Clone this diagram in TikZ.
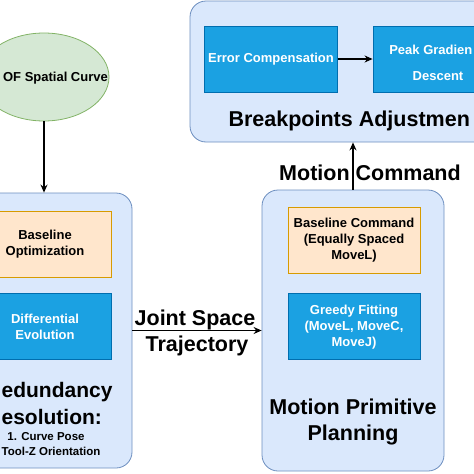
\documentclass[tikz,border=0pt]{standalone}
\usepackage{fontspec}
\setmainfont{Liberation Sans}
\usepackage{xcolor}
\usetikzlibrary{shapes.geometric, arrows, arrows.meta}
\usetikzlibrary{positioning}
\definecolor{grpfill}{HTML}{DAE8FC}
\definecolor{grpline}{HTML}{6C8EBF}
\definecolor{boxfill}{HTML}{1BA1E2}
\definecolor{boxline}{HTML}{006EAF}
\definecolor{orgfill}{HTML}{FFE6CC}
\definecolor{orgline}{HTML}{D79B00}
\definecolor{grnfill}{HTML}{D5E8D4}
\definecolor{grnline}{HTML}{82B366}

\begin{document}
\begin{tikzpicture}[x=1pt, y=-1pt, ->, >={Stealth[length=8pt, width=7pt]}, line width=1.2pt,
	group/.style={rectangle, rounded corners=16pt, draw=grpline, fill=grpfill, line width=0.8pt, inner sep=0pt},
	bluebox/.style={rectangle, draw=boxline, fill=boxfill, text=white, minimum width=132pt, minimum height=66pt, align=center, font=\fontsize{13}{16}\selectfont\bfseries, line width=0.8pt},
	orangebox/.style={bluebox, draw=orgline, fill=orgfill, text=black},
	curve/.style={ellipse, draw=grnline, fill=grnfill, minimum width=130pt, minimum height=88pt, line width=0.8pt},
	big/.style={font=\fontsize{21.5}{26}\selectfont\bfseries, align=center, inner sep=0pt},
	small/.style={font=\fontsize{13}{16}\selectfont\bfseries, inner sep=0pt},
	tiny/.style={font=\fontsize{11.5}{14}\selectfont\bfseries, inner sep=0pt}]
	\useasboundingbox (0,0) rectangle (474,474);
	\clip (0,0) rectangle (474,474);
	
	\node[group, minimum width=329pt, minimum height=141pt] (ba) at (354.5,71.5) {};
	\node[group, minimum width=174pt, minimum height=275pt] (rr) at (45,330.5) {};
	\node[group, minimum width=182pt, minimum height=281pt] (mp) at (353,330.5) {};
	
	\node[curve] (sc) at (44,77) {};
	\node[small, anchor=base west] (sct) at (2.5,81.6) {OF Spatial Curve};
	
	\node[bluebox] (ec) at (271,59) {Error Compensation};
	\node[bluebox] (pg) [right=35pt of ec] {};
	\node[small, text=white, anchor=base east] (pg1) at (473,54.6) {Peak Gradien};
	\node[small, text=white, anchor=base] (pg2) at (438,80.6) {Descent};
	\node[big, anchor=base west] (bat) at (228,126.7) {Breakpoints Adjustmen};
	
	\node[orangebox] (bo) at (45,244) {Baseline\\Optimization};
	\node[bluebox] (de) [below=16pt of bo] {Differential\\Evolution};
	\node[big, font=\fontsize{21}{26}\selectfont\bfseries, anchor=base west] (rr1) at (1,397.7) {edundancy};
	\node[big, font=\fontsize{21}{26}\selectfont\bfseries, anchor=base west] (rr2) at (1,424.7) {esolution:};
	\node[tiny, anchor=base] (rr3) at (46,440) {1. Curve Pose};
	\node[tiny, anchor=base west] (rr4) at (1,455) {Tool-Z Orientation};
	
	\node[orangebox] (bc) at (354,240) {Baseline Command\\(Equally Spaced\\MoveL)};
	\node[bluebox] (gf) [below=20pt of bc] {Greedy Fitting\\(MoveL, MoveC,\\MoveJ)};
	\node[big] (mpt) at (353,422) {Motion Primitive\\Planning};
	
	\path (sc.south) edge (sc.south |- rr.north)
	(ec) edge (pg)
	(rr) edge node[big, above, xshift=-2pt] {Joint Space} node[big, below, inner sep=4.5pt] {Trajectory} (mp)
	(mp.north) edge node[big, xshift=17pt, yshift=-7pt] {Motion Command} (mp.north |- ba.south);
	
\end{tikzpicture}
\end{document}
